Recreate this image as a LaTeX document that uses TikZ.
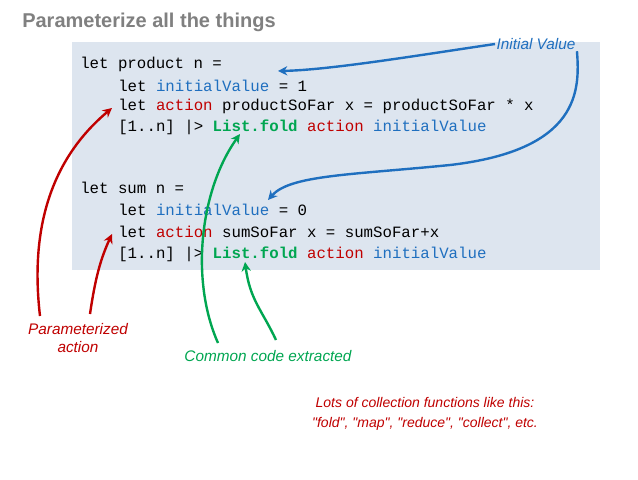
\documentclass[tikz,border=0pt]{standalone}
\usepackage{fontspec}
\setmainfont{Liberation Sans}
\newfontfamily\codefont{Liberation Mono}
\newfontfamily\handfont{Liberation Sans}
\usetikzlibrary{arrows.meta}
\definecolor{cblue}{HTML}{1F6FBF}
\definecolor{cred}{HTML}{C00000}
\definecolor{cgreen}{HTML}{00A651}
\definecolor{boxbg}{HTML}{DDE5EF}
\begin{document}
\begin{tikzpicture}[x=0.75pt,y=-0.75pt,
 code/.style={anchor=west,inner sep=0pt,font=\codefont\fontsize{11.8}{13}\selectfont},
 hand/.style={font=\handfont\itshape\fontsize{11.5}{14}\selectfont,align=center,inner sep=1pt},
 arr/.style={line width=1.8pt,-{Stealth[length=7pt,width=7pt]}}]
\useasboundingbox (0,0) rectangle (638,479);
\fill[white] (0,0) rectangle (638,479);
\node[anchor=west,inner sep=0pt,text=gray,font=\bfseries\fontsize{15}{18}\selectfont] (title) at (22,22) {Parameterize all the things};
\fill[boxbg] (72,42) rectangle (600,270);
\node[code] (l1) at (80,64) {let product n =};
\node[code] (l2) at (118,86) {let \textcolor{cblue}{initialValue} = 1};
\node[code] (l3) at (118,106) {let \textcolor{cred}{action} productSoFar x = productSoFar * x};
\node[code] (l4) at (118,127) {[1..n] |> \textcolor{cgreen}{\bfseries List.fold} \textcolor{cred}{action} \textcolor{cblue}{initialValue}};
\node[code] (m1) at (80,188) {let sum n =};
\node[code] (m2) at (118,210) {let \textcolor{cblue}{initialValue} = 0};
\node[code] (m3) at (118,232) {let \textcolor{cred}{action} sumSoFar x = sumSoFar+x};
\node[code] (m4) at (118,254) {[1..n] |> \textcolor{cgreen}{\bfseries List.fold} \textcolor{cred}{action} \textcolor{cblue}{initialValue}};
\node[hand,text=cblue] (iv) at (536,44) {Initial Value};
\node[hand,text=cred] (pa) at (78,338) {Parameterized\\action};
\node[hand,text=cgreen] (cc) at (268,356) {Common code extracted};
\node[hand,text=cred,font=\handfont\itshape\fontsize{10.5}{15}\selectfont] (lots) at (425,414) {Lots of collection functions like this:\\"fold", "map", "reduce", "collect", etc.};
\coordinate (t1) at (278,71);
\coordinate (t2) at (268,200);
\coordinate (t3) at (112,108);
\coordinate (t4) at (112,234);
\coordinate (t5) at (240,134);
\coordinate (t6) at (245,262);
\draw[arr,cblue] (iv.west) .. controls (420,55) and (330,70) .. (t1);
\draw[arr,cblue] (iv.south east) .. controls (580,90) and (580,150) .. (450,165) .. controls (350,175) and (290,175) .. (t2);
\draw[arr,cred] (40,316) .. controls (30,230) and (50,160) .. (t3);
\draw[arr,cred] (90,314) .. controls (95,280) and (100,260) .. (t4);
\draw[arr,cgreen] (218,343) .. controls (190,280) and (200,190) .. (t5);
\draw[arr,cgreen] (276,340) .. controls (262,310) and (250,300) .. (t6);
\end{tikzpicture}
\end{document}
